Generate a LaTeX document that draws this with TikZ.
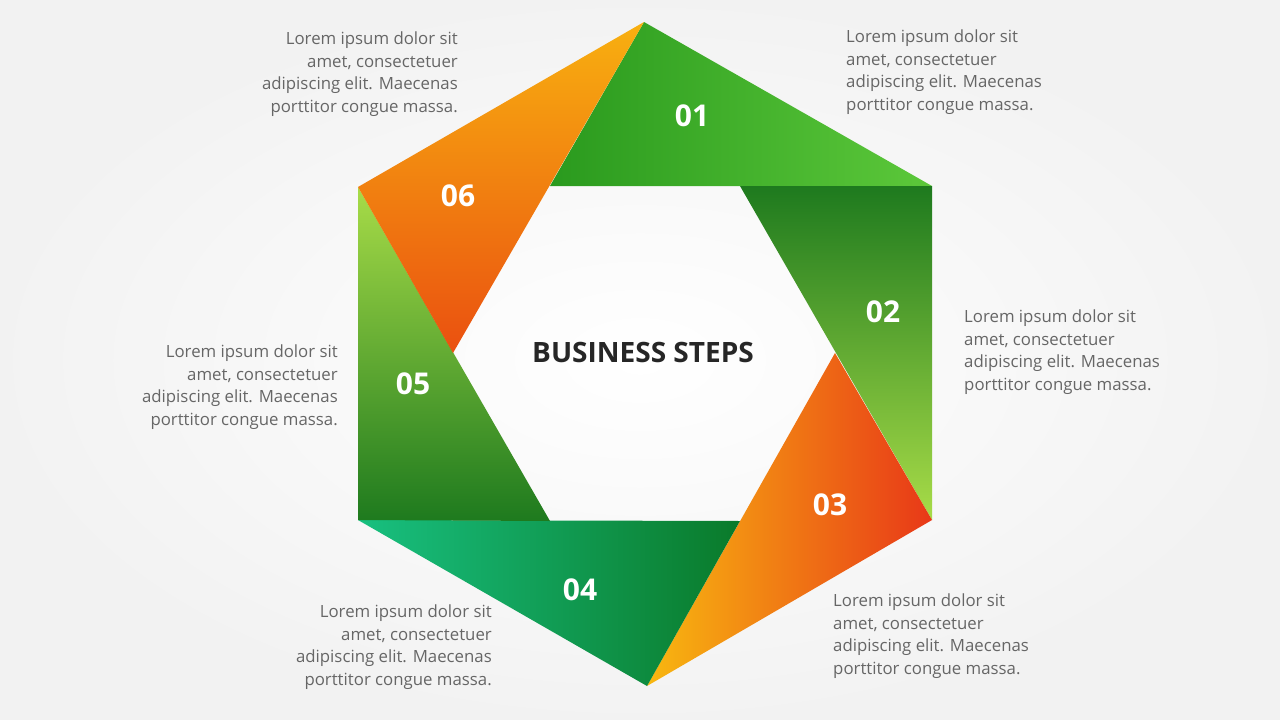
\documentclass[tikz,border=0pt]{standalone}
\usepackage{fontspec}
\setmainfont{Open Sans}
\begin{document}
\begin{tikzpicture}[x=1pt,y=-1pt,
  txt/.style={font=\fontsize{16.8}{22.5}\selectfont, text=black!60, inner sep=0pt},
  num/.style={font=\fontsize{30}{30}\selectfont\bfseries, text=white}]
\definecolor{g1d}{HTML}{2A9A1E}\definecolor{g1l}{HTML}{5CC83A}
\definecolor{g2d}{HTML}{1E7A1E}\definecolor{g2l}{HTML}{A8DC48}
\definecolor{o3y}{HTML}{F8B810}\definecolor{o3r}{HTML}{E83818}
\definecolor{t4l}{HTML}{18C080}\definecolor{t4d}{HTML}{0A7A2A}
\definecolor{g5l}{HTML}{A8DC48}\definecolor{g5d}{HTML}{1E7A1E}
\definecolor{o6y}{HTML}{F8B010}\definecolor{o6r}{HTML}{EA5010}
\shade[inner color=white, outer color=black!5] (0,0) rectangle (1280,720);
\useasboundingbox (0,0) rectangle (1280,720);
\coordinate (T) at (644,22); \coordinate (UR) at (932,186); \coordinate (LR) at (932,520);
\coordinate (B) at (647,686); \coordinate (LL) at (358,520); \coordinate (UL) at (358,187);
\coordinate (i1) at (550,186); \coordinate (i2) at (740,186); \coordinate (i3) at (835,353);
\coordinate (i4) at (740,521); \coordinate (i5) at (550,521); \coordinate (i6) at (453,353);
\shade[left color=g1d, right color=g1l] (T)--(UR)--(i1)--cycle;
\shade[top color=g2d, bottom color=g2l] (i2)--(UR)--(LR)--cycle;
\shade[shading angle=30, left color=o3y, right color=o3r] (i3)--(LR)--(B)--cycle;
\shade[left color=t4l, right color=t4d] (LL)--(i4)--(B)--cycle;
\shade[top color=g5l, bottom color=g5d] (UL)--(LL)--(i5)--cycle;
\shade[top color=o6y, bottom color=o6r] (UL)--(T)--(i6)--cycle;
\node[num] (n1) at (692,116) {01};
\node[num] (n2) at (883,312) {02};
\node[num] (n3) at (830,505) {03};
\node[num] (n4) at (580,590) {04};
\node[num] (n5) at (413,384) {05};
\node[num] (n6) at (458,196) {06};
\node[font=\fontsize{28}{28}\selectfont\bfseries, text=black!85] (title) at (643,352) {BUSINESS STEPS};
\node[txt, anchor=north east, align=right] (t6) at (458,32) {Lorem ipsum dolor sit\\amet, consectetuer\\adipiscing elit. Maecenas\\porttitor congue massa.};
\node[txt, anchor=north west, align=left] (t1) at (846,30) {Lorem ipsum dolor sit\\amet, consectetuer\\adipiscing elit. Maecenas\\porttitor congue massa.};
\node[txt, anchor=north west, align=left] (t2) at (964,310) {Lorem ipsum dolor sit\\amet, consectetuer\\adipiscing elit. Maecenas\\porttitor congue massa.};
\node[txt, anchor=north west, align=left] (t3) at (833,594) {Lorem ipsum dolor sit\\amet, consectetuer\\adipiscing elit. Maecenas\\porttitor congue massa.};
\node[txt, anchor=north east, align=right] (t4) at (492,605) {Lorem ipsum dolor sit\\amet, consectetuer\\adipiscing elit. Maecenas\\porttitor congue massa.};
\node[txt, anchor=north east, align=right] (t5) at (338,345) {Lorem ipsum dolor sit\\amet, consectetuer\\adipiscing elit. Maecenas\\porttitor congue massa.};
\end{tikzpicture}
\end{document}
